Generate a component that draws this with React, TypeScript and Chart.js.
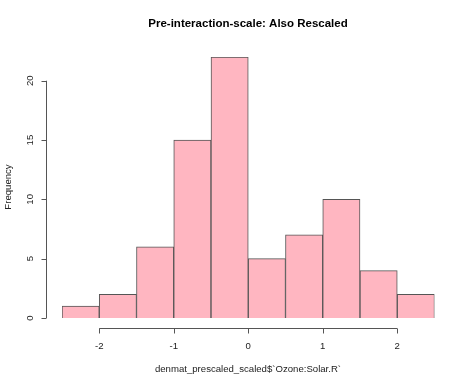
import React, { useEffect, useRef } from "react";
import { Chart, registerables } from "chart.js";

Chart.register(...registerables);

const binStarts = [-2.5, -2, -1.5, -1, -0.5, 0, 0.5, 1, 1.5, 2];
const binWidth = 0.5;
const frequencies = [1, 2, 6, 15, 22, 5, 7, 10, 4, 2];
const xTicks = [-2, -1, 0, 1, 2];
const yTicks = [0, 5, 10, 15, 20];
const title = "Pre-interaction-scale: Also Rescaled";
const xLabel = "denmat_prescaled_scaled$`Ozone:Solar.R`";
const yLabel = "Frequency";

const FONT = "'Liberation Sans', Arial, sans-serif";

const rAxes = {
  id: "rAxes",
  afterDraw(chart: any) {
    const { ctx, scales } = chart;
    const xs = scales.x;
    const ys = scales.y;
    ctx.save();
    ctx.strokeStyle = "#555";
    ctx.lineWidth = 1;
    ctx.fillStyle = "#222";
    // y axis
    const ax = 46.5;
    const y0 = ys.getPixelForValue(yTicks[0]);
    const y1 = ys.getPixelForValue(yTicks[yTicks.length - 1]);
    ctx.beginPath();
    ctx.moveTo(ax, y0);
    ctx.lineTo(ax, y1);
    yTicks.forEach((t) => {
      const p = Math.round(ys.getPixelForValue(t)) + 0.5;
      ctx.moveTo(ax, p);
      ctx.lineTo(ax - 5, p);
    });
    ctx.stroke();
    ctx.font = `9.6px ${FONT}`;
    ctx.textAlign = "center";
    ctx.textBaseline = "middle";
    yTicks.forEach((t) => {
      const p = ys.getPixelForValue(t);
      ctx.save();
      ctx.translate(30, p);
      ctx.rotate(-Math.PI / 2);
      ctx.fillText(String(t), 0, 0);
      ctx.restore();
    });
    // x axis
    const ay = 328.5;
    const x0 = xs.getPixelForValue(xTicks[0]);
    const x1 = xs.getPixelForValue(xTicks[xTicks.length - 1]);
    ctx.beginPath();
    ctx.moveTo(x0, ay);
    ctx.lineTo(x1, ay);
    xTicks.forEach((t) => {
      const p = Math.round(xs.getPixelForValue(t)) + 0.5;
      ctx.moveTo(p, ay);
      ctx.lineTo(p, ay + 5);
    });
    ctx.stroke();
    xTicks.forEach((t) => {
      const p = xs.getPixelForValue(t);
      ctx.fillText(String(t), p, 346);
    });
    // labels
    ctx.fillText(xLabel, 248, 369);
    ctx.save();
    ctx.translate(8, 187);
    ctx.rotate(-Math.PI / 2);
    ctx.fillText(yLabel, 0, 0);
    ctx.restore();
    ctx.fillStyle = "#000";
    ctx.font = `bold 11.5px ${FONT}`;
    ctx.fillText(title, 248, 24);
    ctx.restore();
  },
};

export default function App() {
  const ref = useRef<HTMLCanvasElement>(null);
  useEffect(() => {
    document.body.style.margin = "0";
    const data = binStarts.map((s, i) => ({ x: s + binWidth / 2, y: frequencies[i] }));
    const chart = new Chart(ref.current!, {
      type: "bar",
      data: {
        datasets: [
          {
            data,
            backgroundColor: "#FFB6C1",
            borderColor: "#555",
            borderWidth: 1,
            barPercentage: 1,
            categoryPercentage: 1,
          },
        ],
      },
      options: {
        animation: false,
        responsive: false,
        maintainAspectRatio: false,
        layout: { padding: { left: 62, right: 39.5, top: 57, bottom: 69 } },
        plugins: { legend: { display: false }, tooltip: { enabled: false }, title: { display: false } },
        scales: {
          x: { type: "linear", min: -2.5, max: 2.5, offset: false, display: false },
          y: { type: "linear", min: 0, max: 22, display: false },
        },
      },
      plugins: [rAxes],
    });
    return () => chart.destroy();
  }, []);
  return (
    <div style={{ width: 474, height: 387, background: "#fff" }}>
      <canvas ref={ref} width={474} height={387} style={{ display: "block" }} />
    </div>
  );
}
